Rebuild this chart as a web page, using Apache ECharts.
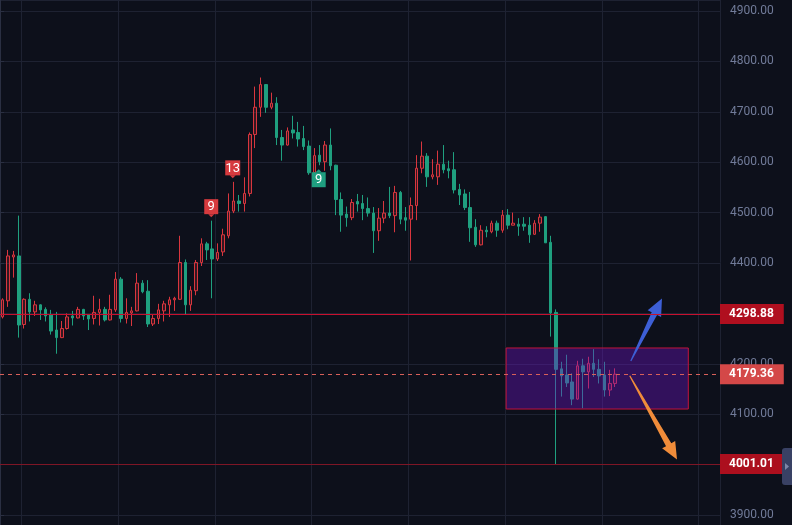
<!DOCTYPE html>
<html><head><meta charset="utf-8">
<script src="https://cdn.jsdelivr.net/npm/echarts/dist/echarts.min.js"></script>
<style>html,body{margin:0;padding:0;background:#0d101b;}#c{width:792px;height:525px;}</style>
</head><body><div id="c"></div><script>
// ---- data ----
const opens  = [4293,4325,4412,4414,4278,4328,4303,4317,4308,4297,4267,4252,4270,4295,4291,4308,4297,4290,4302,4308,
                4287,4307,4368,4290,4301,4305,4360,4344,4279,4290,4305,4317,4327,4328,4401,4317,4345,4401,4438,4428,
                4408,4422,4454,4503,4523,4518,4538,4655,4709,4754,4709,4717,4649,4634,4664,4659,4647,4632,4579,4614,
                4601,4634,4594,4526,4497,4490,4522,4518,4508,4499,4464,4489,4499,4494,4540,4490,4487,4514,4588,4612,
                4571,4571,4596,4587,4585,4546,4537,4510,4471,4436,4465,4462,4479,4465,4495,4475,4477,4477,4475,4457,
                4479,4492,4441,4302,4190,4178,4164,4130,4196,4184,4201,4189,4178,4148,4161];
const closes = [4327,4414,4416,4277,4328,4303,4317,4307,4295,4265,4252,4270,4293,4291,4308,4295,4289,4302,4308,4287,
                4308,4368,4290,4302,4305,4360,4343,4279,4290,4307,4319,4327,4330,4401,4317,4346,4401,4438,4426,4408,
                4421,4456,4503,4523,4518,4538,4655,4709,4754,4709,4717,4649,4634,4662,4658,4646,4631,4579,4613,4601,
                4634,4593,4526,4495,4490,4520,4517,4508,4499,4464,4489,4499,4494,4540,4487,4485,4514,4588,4612,4571,
                4575,4596,4585,4583,4545,4535,4510,4470,4436,4465,4462,4479,4465,4495,4475,4479,4473,4473,4456,4479,
                4491,4440,4301,4189,4176,4162,4130,4196,4184,4201,4189,4176,4148,4161,4179.36];
const lows   = [4290,4313,4371,4252,4270,4284,4295,4287,4284,4258,4220,4251,4268,4276,4290,4287,4267,4278,4276,4284,
                4286,4303,4282,4280,4275,4304,4340,4273,4275,4279,4284,4293,4305,4327,4297,4305,4336,4394,4406,4330,
                4404,4414,4449,4499,4502,4502,4532,4628,4690,4698,4705,4634,4603,4633,4647,4631,4624,4575,4575,4594,
                4583,4584,4495,4462,4472,4485,4502,4485,4492,4420,4444,4479,4489,4461,4477,4464,4405,4485,4578,4551,
                4566,4555,4578,4568,4538,4515,4505,4442,4432,4435,4451,4459,4452,4460,4467,4475,4454,4464,4440,4456,
                4462,4440,4254,4001.01,4135,4154,4118,4129,4112,4151,4174,4161,4135,4136,4154];
const highs  = [4330,4426,4424,4494,4330,4340,4325,4318,4312,4307,4303,4285,4300,4305,4313,4309,4298,4335,4329,4313,
                4337,4382,4372,4330,4313,4380,4366,4366,4297,4319,4325,4333,4333,4454,4407,4354,4406,4449,4442,4484,
                4439,4468,4538,4561,4535,4570,4659,4750,4768,4755,4738,4729,4664,4669,4692,4680,4672,4643,4628,4634,
                4642,4667,4595,4540,4512,4527,4537,4535,4530,4511,4509,4523,4551,4553,4543,4511,4530,4614,4641,4618,
                4606,4623,4634,4603,4620,4557,4546,4541,4487,4475,4473,4484,4484,4505,4507,4500,4489,4491,4491,4485,
                4497,4493,4454,4308,4204,4218,4181,4206,4210,4214,4229,4209,4204,4188,4191];
const slotCount = 134;                       // candle slots on the time axis (right part empty)
const categories = Array.from({length: slotCount}, (_, i) => 'K' + (i + 1));
const levelValues = [4298.88, 4179.36, 4001.01];
const markerIdx  = [39, 43, 59];
const markerText = ['9', '13', '9'];
const markerSide = ['up', 'up', 'down'];
const boxX = [94.2, 128.1];
const boxY = [4110.3, 4231.4];
const blueArrow   = [117.4, 4205.6, 123.2, 4329.6];
const orangeArrow = [117.2, 4176.4, 126.0, 4010.2];
const yMin = 3880.2, yMax = 4921.8;

// ---- build ----
const candleData = categories.map((_, i) => i < opens.length ? [opens[i], closes[i], lows[i], highs[i]] : '-');
const markerData = markerIdx.map((k, j) => [k + 0.5, markerSide[j] === 'up' ? highs[k] : lows[k]]);

const GRID = '#1e2232';
const chart = echarts.init(document.getElementById('c'), null, {renderer: 'canvas'});
chart.setOption({
  animation: false,
  backgroundColor: '#0d101b',
  grid: {left: -4, right: 72, top: 0, bottom: 0, containLabel: false},
  xAxis: [
    {type: 'category', data: categories, boundaryGap: true,
     axisLine: {show: false}, axisTick: {show: false}, axisLabel: {show: false},
     splitLine: {show: true, interval: (idx) => idx > 0 && (idx - 4) % 18 === 0, lineStyle: {color: GRID, width: 1}}},
    {type: 'value', min: 0, max: slotCount, show: false}
  ],
  yAxis: {
    type: 'value', position: 'right', min: yMin, max: yMax, splitNumber: 10, scale: true,
    axisLine: {show: true, lineStyle: {color: '#2a2f42'}},
    axisTick: {show: true, length: 4, lineStyle: {color: '#2a2f42'}},
    axisLabel: {color: '#717b99', fontSize: 12, fontFamily: 'Roboto, Arial, sans-serif', margin: 10,
                showMinLabel: false, showMaxLabel: false, formatter: v => v.toFixed(2)},
    splitLine: {show: true, lineStyle: {color: GRID, width: 1}}
  },
  graphic: [
    {type: 'rect', right: 0, top: 448, shape: {width: 10, height: 37, r: [3, 0, 0, 3]}, style: {fill: '#394164'}, z: 50},
    {type: 'polygon', shape: {points: [[785, 463], [789, 466.5], [785, 470]]}, style: {fill: '#7e87a8'}, z: 51}
  ],
  series: [
    {
      type: 'candlestick', xAxisIndex: 0, yAxisIndex: 0, z: 2,
      data: candleData, barWidth: 3,
      itemStyle: {color: 'rgba(217,54,62,0.2)', color0: '#1fa07f', borderColor: '#d9363e', borderColor0: '#1fa07f', borderWidth: 1},
      markLine: {
        silent: true, animation: false, symbol: ['none', 'none'], z: 6,
        label: {show: true, position: 'end', distance: 0, color: '#ffffff', fontWeight: 'bold', fontSize: 12,
                fontFamily: 'Roboto, Arial, sans-serif', padding: [3, 10, 3, 9], lineHeight: 14,
                formatter: p => Number(p.value).toFixed(2)},
        data: [
          {yAxis: levelValues[0], lineStyle: {color: '#c8102e', type: 'solid', width: 1}, label: {backgroundColor: '#b00f1f'}},
          {yAxis: levelValues[1], lineStyle: {color: '#d8605a', type: [4, 4], width: 1}, label: {backgroundColor: '#d44848'}},
          {yAxis: levelValues[2], lineStyle: {color: '#7e1626', type: 'solid', width: 1}, label: {backgroundColor: '#ac0f1e'}}
        ]
      }
    },
    {
      type: 'custom', xAxisIndex: 1, yAxisIndex: 0, z: 3, silent: true,
      data: [[boxX[0], boxY[0], boxX[1], boxY[1]]],
      renderItem: (params, api) => {
        const a = api.coord([api.value(0), api.value(3)]);
        const b = api.coord([api.value(2), api.value(1)]);
        return {type: 'rect', shape: {x: a[0], y: a[1], width: b[0] - a[0], height: b[1] - a[1]},
                style: {fill: 'rgba(110,20,200,0.38)', stroke: '#c0143c', lineWidth: 1}};
      }
    },
    {
      type: 'custom', xAxisIndex: 1, yAxisIndex: 0, z: 4, silent: true,
      data: [blueArrow, orangeArrow],
      renderItem: (params, api) => {
        const t = api.coord([api.value(0), api.value(1)]);
        const h = api.coord([api.value(2), api.value(3)]);
        const dx = h[0] - t[0], dy = h[1] - t[1], L = Math.hypot(dx, dy);
        const ux = dx / L, uy = dy / L, nx = -uy, ny = ux;
        const headLen = 17, headHalf = 7.5, shaftHalf = 3, tailHalf = 0.6;
        const bx = h[0] - ux * headLen, by = h[1] - uy * headLen;
        const pts = [
          [t[0] + nx * tailHalf, t[1] + ny * tailHalf],
          [bx + nx * shaftHalf, by + ny * shaftHalf],
          [bx + nx * headHalf, by + ny * headHalf],
          [h[0], h[1]],
          [bx - nx * headHalf, by - ny * headHalf],
          [bx - nx * shaftHalf, by - ny * shaftHalf],
          [t[0] - nx * tailHalf, t[1] - ny * tailHalf]
        ];
        const col = params.dataIndex === 0 ? '#3d5fd6' : '#f08c3a';
        return {type: 'polygon', shape: {points: pts}, style: {fill: col}};
      }
    },
    {
      type: 'custom', xAxisIndex: 1, yAxisIndex: 0, z: 4, silent: true,
      data: markerData,
      renderItem: (params, api) => {
        const j = params.dataIndex;
        const p = api.coord([api.value(0), api.value(1)]);
        const up = markerSide[j] === 'up';
        const txt = markerText[j];
        const w = txt.length > 1 ? 15 : 14, hgt = 15;
        const col = up ? '#d63a3e' : '#1f9f80';
        const tipY = up ? p[1] - 3.5 : p[1] + 4;
        const baseY = up ? tipY - 3 : tipY + 3;
        const y0 = up ? baseY - hgt : baseY;
        return {type: 'group', children: [
          {type: 'rect', shape: {x: p[0] - w / 2 - 1, y: y0, width: w, height: hgt}, style: {fill: col}},
          {type: 'polygon', shape: {points: [[p[0] - 4, baseY], [p[0] + 2, baseY], [p[0] - 1, tipY]]}, style: {fill: col}},
          {type: 'text', style: {text: txt, x: p[0] - 1, y: y0 + hgt / 2 + 0.5, fill: '#ffffff',
            font: '13px Roboto, Arial, sans-serif', align: 'center', verticalAlign: 'middle'}}
        ]};
      }
    }
  ]
});
</script></body></html>
